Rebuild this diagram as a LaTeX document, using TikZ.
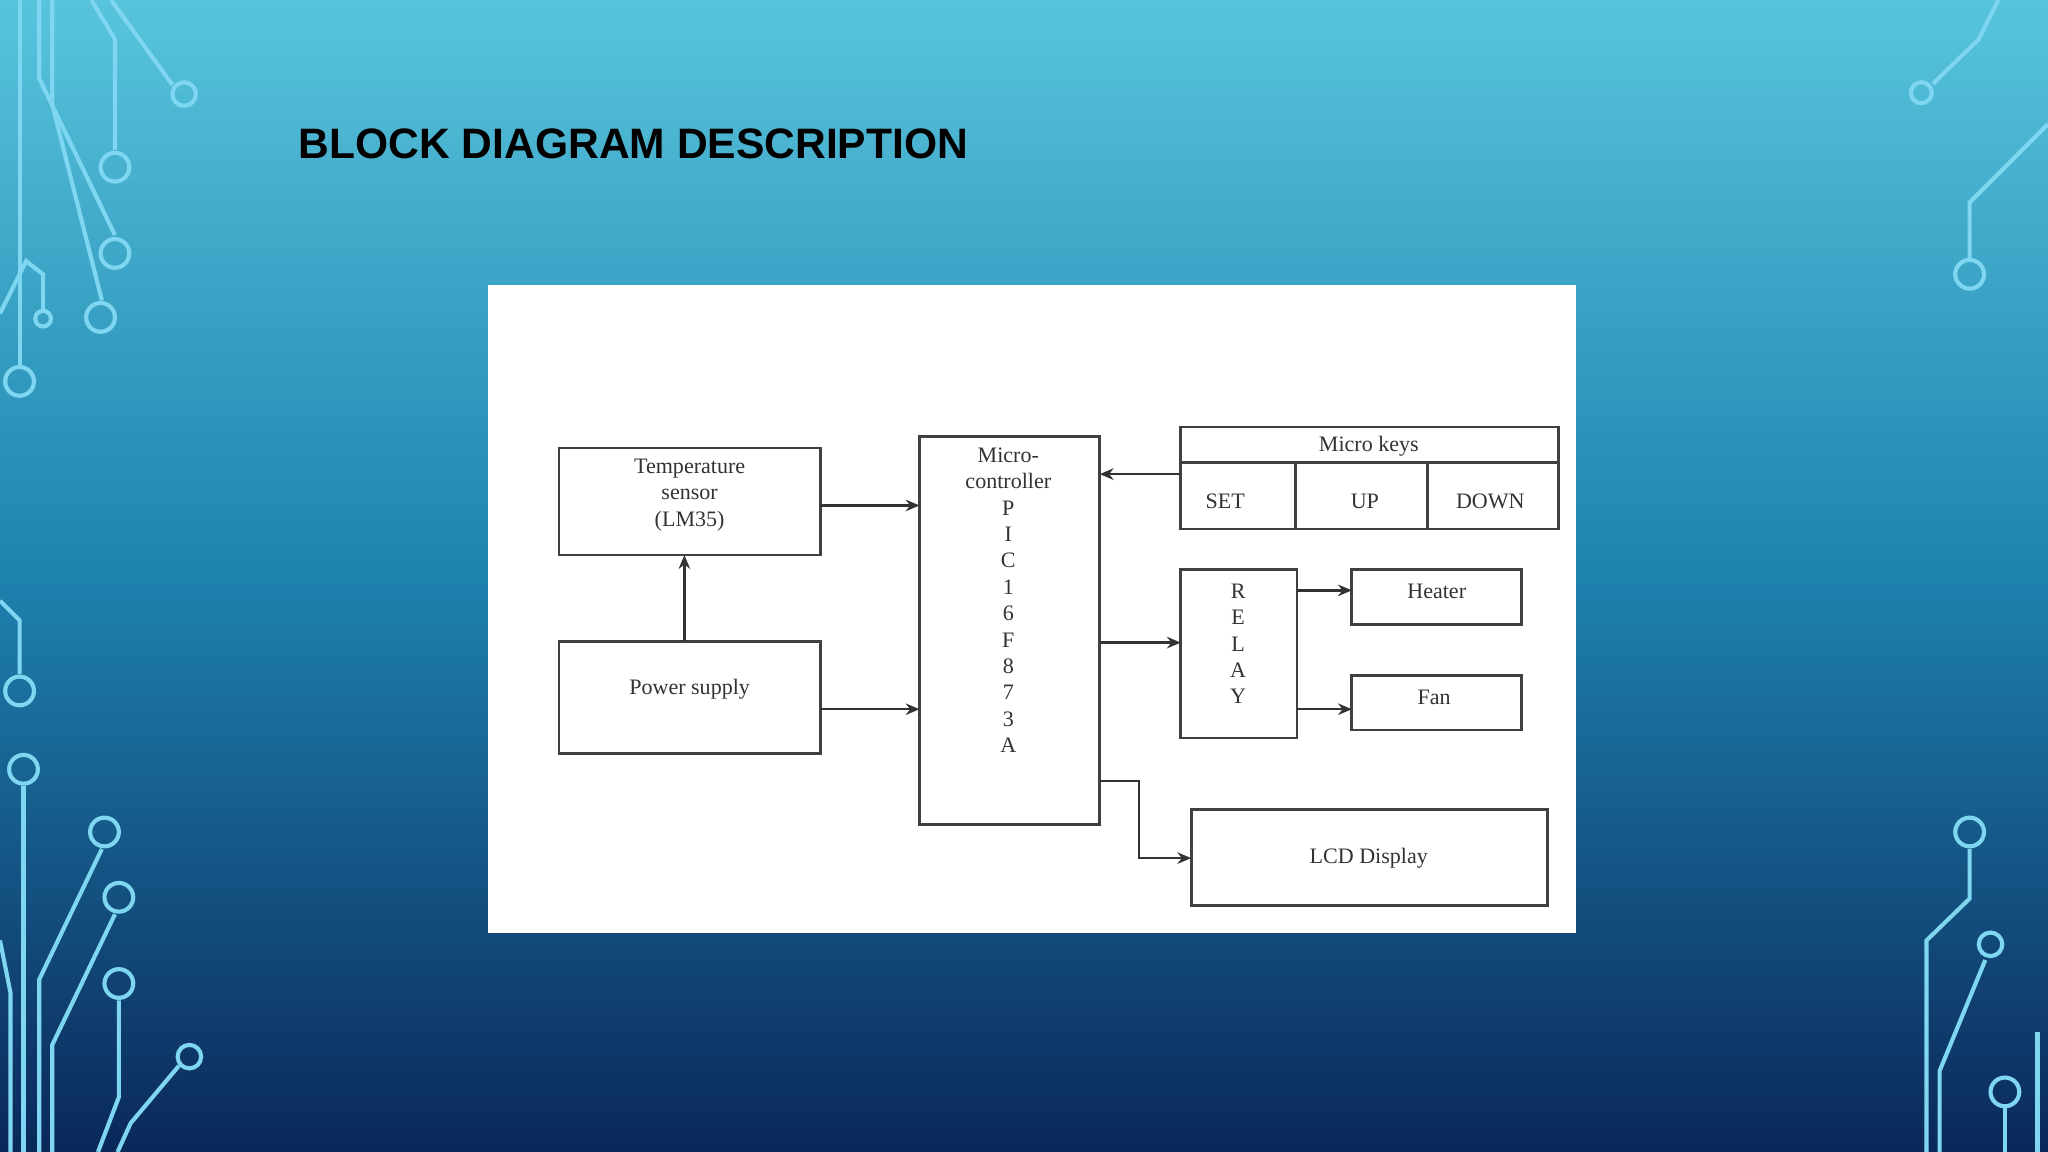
\documentclass[tikz,border=0pt]{standalone}
\usepackage{fontspec}
\setmainfont{Liberation Serif}
\newfontfamily\titlefont{Liberation Sans}
\usetikzlibrary{arrows.meta}
\definecolor{trace}{HTML}{7FD6F0}
\begin{document}
\begin{tikzpicture}[x=0.01cm,y=-0.01cm,
  blk/.style={draw=black!75,line width=0.6pt},
  lbl/.style={font=\fontsize{4.8}{5.8}\selectfont,align=center,text=black!80,inner sep=0pt},
  arr/.style={draw=black!80,line width=0.5pt,-{Stealth[length=3pt,width=2.5pt]}},
  tr/.style={draw=trace,line width=0.9pt},
  dot/.style={draw=trace,line width=0.9pt,fill=none}]
\useasboundingbox (0,0) rectangle (1568,882);
\shade[top color={rgb,255:red,88;green,196;blue,220}, bottom color={rgb,255:red,10;green,40;blue,90}, middle color={rgb,255:red,30;green,130;blue,175}] (0,0) rectangle (1568,882);
% circuit traces left
\draw[tr] (15,0)--(15,280); \draw[dot] (15,292) circle (11);
\draw[tr] (30,0)--(30,60)--(88,180); \draw[dot] (88,194) circle (11);
\draw[tr] (40,0)--(40,80)--(78,230); \draw[dot] (77,243) circle (11);
\draw[tr] (70,0)--(88,30)--(88,115); \draw[dot] (88,128) circle (11);
\draw[tr] (85,0)--(132,65); \draw[dot] (141,72) circle (9);
\draw[tr] (0,240)--(20,200)--(33,210)--(33,238); \draw[dot] (33,244) circle (6);
\draw[tr] (0,460)--(15,475)--(15,516); \draw[dot] (15,529) circle (11);
\draw[tr] (18,602)--(18,882); \draw[dot] (18,589) circle (11);
\draw[tr] (0,720)--(8,760)--(8,882);
\draw[tr] (30,882)--(30,750)--(78,650); \draw[dot] (80,637) circle (11);
\draw[tr] (40,882)--(40,800)--(88,700); \draw[dot] (91,687) circle (11);
\draw[tr] (75,882)--(91,840)--(91,766); \draw[dot] (91,753) circle (11);
\draw[tr] (90,882)--(100,860)--(137,816); \draw[dot] (145,809) circle (9);
% right
\draw[tr] (1530,0)--(1515,30)--(1480,64); \draw[dot] (1471,71) circle (8);
\draw[tr] (1568,95)--(1508,155)--(1508,198); \draw[dot] (1508,210) circle (11);
\draw[tr] (1475,882)--(1475,720)--(1508,688)--(1508,650); \draw[dot] (1508,637) circle (11);
\draw[tr] (1485,882)--(1485,820)--(1520,735); \draw[dot] (1524,723) circle (9);
\draw[tr] (1535,882)--(1535,848); \draw[dot] (1535,836) circle (11);
\draw[tr] (1560,882)--(1560,790);
% title
\node[anchor=west,inner sep=0pt,font=\titlefont\bfseries\fontsize{9.27}{11}\selectfont] (title) at (228,110) {BLOCK DIAGRAM DESCRIPTION};
% panel
\fill[white] (374,218) rectangle (1207,714);
% blocks
\draw[blk] (428,343) rectangle (628,425);
\node[lbl] (temp) at (528,379) {Temperature\\sensor\\(LM35)};
\coordinate (tempB) at (524,425);
\draw[blk] (428,491) rectangle (628,577);
\node[lbl] (ps) at (528,528) {Power supply};
\coordinate (psT) at (524,491);
\draw[blk] (704,334) rectangle (842,631);
\node[lbl,anchor=north,font=\fontsize{4.8}{5.75}\selectfont] (mc) at (772,342) {Micro-\\controller\\P\\I\\C\\1\\6\\F\\8\\7\\3\\A};
\draw[blk] (904,327) rectangle (1193,405);
\draw[blk] (904,354)--(1193,354) (992,354)--(992,405) (1093,354)--(1093,405);
\node[lbl] (mk) at (1048,342) {Micro keys};
\node[lbl] (set) at (938,384) {SET};
\node[lbl] (up) at (1045,384) {UP};
\node[lbl] (down) at (1141,384) {DOWN};
\draw[blk] (904,436) rectangle (993,565);
\node[lbl,font=\fontsize{4.8}{5.75}\selectfont] (relay) at (948,493) {R\\E\\L\\A\\Y};
\draw[blk] (1035,436) rectangle (1165,478);
\node[lbl] (heater) at (1100,453) {Heater};
\draw[blk] (1035,517) rectangle (1165,559);
\node[lbl] (fan) at (1098,534) {Fan};
\draw[blk] (912,620) rectangle (1185,693);
\node[lbl] (lcd) at (1048,657) {LCD Display};
% connectors
\coordinate (a1) at (628,387); \coordinate (a2) at (704,387);
\draw[arr] (a1)--(a2);
\coordinate (b1) at (628,543); \coordinate (b2) at (704,543);
\draw[arr] (b1)--(b2);
\draw[arr] (psT)--(tempB);
\coordinate (k1) at (904,363); \coordinate (k2) at (842,363);
\draw[arr] (k1)--(k2);
\coordinate (r1) at (842,492); \coordinate (r2) at (904,492);
\draw[arr] (r1)--(r2);
\coordinate (h1) at (993,452); \coordinate (h2) at (1035,452);
\draw[arr] (h1)--(h2);
\coordinate (f1) at (993,543); \coordinate (f2) at (1035,543);
\draw[arr] (f1)--(f2);
\coordinate (l1) at (842,598); \coordinate (l2) at (912,657);
\draw[arr] (l1)-|(872,657)--(l2);
\end{tikzpicture}
\end{document}
